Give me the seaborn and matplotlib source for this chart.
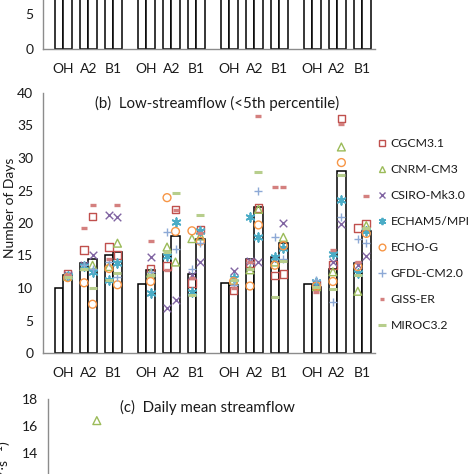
import numpy as np
import pandas as pd
import seaborn as sns
import matplotlib.pyplot as plt
from matplotlib.lines import Line2D

# --- data -------------------------------------------------------------
CATEGORIES = ["OH", "A2", "B1"]
N_GROUPS = 4

# panel (a): only the bottom of the bars is inside the crop (all > 7)
TOP_LEFT = [20, 22, 23, 20, 22, 21, 20, 22, 21, 20, 23, 22]
TOP_RIGHT = [21, 23, 24, 21, 24, 22, 21, 25, 23, 21, 26, 24]

# panel (b): low-streamflow days, left / right bar of each OH-A2-B1 pair
LOW_LEFT = [10.0, 13.8, 15.1, 10.6, 15.2, 12.2, 10.7, 14.4, 14.8, 10.6, 13.0, 13.8]
LOW_RIGHT = [12.0, 14.5, 15.5, 12.7, 18.0, 17.5, 10.5, 22.5, 17.0, 10.2, 28.0, 18.7]

MODELS = ["CGCM3.1", "CNRM-CM3", "CSIRO-Mk3.0", "ECHAM5/MPI",
          "ECHO-G", "GFDL-CM2.0", "GISS-ER", "MIROC3.2"]

# GCM values per group: OH right bar, A2 left, A2 right, B1 left, B1 right
CGCM = [12.2, 15.8, 21.0, 16.3, 15.1, 13.0, 13.4, 22.1, 10.8, 19.0,
        9.6, 13.8, 22.3, 11.9, 12.2, 10.5, 13.5, 36.1, 19.2, 19.9]
CNRM = [11.8, 13.3, 13.5, 13.3, 16.9, 12.3, 16.3, 14.0, 17.6, 18.0,
        11.2, 12.8, 22.1, 14.0, 17.8, 10.2, 12.5, 31.7, 9.5, 19.6]
CSIRO = [12.0, 13.6, 15.1, 21.3, 21.0, 14.7, 6.9, 8.2, 12.0, 14.0,
         12.6, 14.2, 14.0, 14.5, 20.0, 10.8, 14.0, 19.8, 13.5, 15.0]
ECHAM = [11.9, 13.4, 12.5, 11.2, 13.9, 9.2, 14.9, 20.2, 9.4, 18.7,
         11.5, 21.0, 17.8, 14.8, 16.1, 10.9, 15.2, 23.6, 12.3, 18.7]
ECHO = [11.6, 10.8, 7.5, 13.0, 10.5, 11.0, 23.9, 18.7, 18.8, 17.2,
        11.0, 10.3, 19.7, 13.5, 16.5, 10.3, 11.0, 29.3, 13.3, 18.4]
GFDL = [11.8, 13.6, 13.0, 14.0, 11.7, 12.5, 18.6, 16.0, 13.0, 17.0,
        10.5, 14.0, 25.0, 17.8, 14.5, 11.2, 7.9, 21.0, 17.6, 17.0]
GISS = [12.0, 19.3, 22.7, 14.5, 22.8, 17.3, 12.8, 22.0, 11.5, 18.5,
        10.0, 14.0, 36.4, 25.6, 25.6, 9.4, 15.8, 35.3, 14.0, 24.2]
MIROC = [11.7, 13.0, 10.0, 11.3, 12.3, 12.0, 15.5, 24.6, 9.0, 21.3,
         11.3, 13.0, 27.9, 8.6, 14.1, 10.1, 9.8, 27.4, 12.0, 19.2]
MODEL_VALUES = [CGCM, CNRM, CSIRO, ECHAM, ECHO, GFDL, GISS, MIROC]
SLOTS = [("OH", "right"), ("A2", "left"), ("A2", "right"), ("B1", "left"), ("B1", "right")]

# panel (c): the only mark inside the crop
MEAN_POINT = {"model": "CNRM-CM3", "group": 0, "cat": "A2", "side": "right", "value": 16.4}

# --- styles -----------------------------------------------------------
COLORS = {"CGCM3.1": "#C0504D", "CNRM-CM3": "#9BBB59", "CSIRO-Mk3.0": "#8064A2",
          "ECHAM5/MPI": "#4BACC6", "ECHO-G": "#F79646", "GFDL-CM2.0": "#8DA9D6",
          "GISS-ER": "#D4807F", "MIROC3.2": "#B7CE8C"}
# marker, size (pt^2), line width, outline-only filled marker?
MARKERS = {"CGCM3.1": ("s", 30, 1.0, True), "CNRM-CM3": ("^", 32, 1.0, True),
           "CSIRO-Mk3.0": ("x", 30, 1.0, False), "ECHAM5/MPI": ((6, 2, 0), 38, 1.3, False),
           "ECHO-G": ("o", 32, 1.0, True), "GFDL-CM2.0": ("+", 40, 1.0, False),
           "GISS-ER": ("_", 14, 2.4, False), "MIROC3.2": ("_", 36, 2.2, False)}

GROUP_STEP = 3.33
HALF = 0.17
XLIM = (-0.82, 12.51)
AXIS_GREY = "#8C8C8C"
TEXT = "#1a1a1a"


def pair_pos(g, cat):
    return g * GROUP_STEP + CATEGORIES.index(cat)


def bar_frame(left, right):
    rows = []
    for g in range(N_GROUPS):
        for k, cat in enumerate(CATEGORIES):
            i = g * 3 + k
            rows.append({"pos": pair_pos(g, cat), "side": "left", "days": left[i]})
            rows.append({"pos": pair_pos(g, cat), "side": "right", "days": right[i]})
    return pd.DataFrame(rows)


def marker_frame():
    rows = []
    for model, vals in zip(MODELS, MODEL_VALUES):
        for g in range(N_GROUPS):
            for j, (cat, side) in enumerate(SLOTS):
                off = -HALF if side == "left" else HALF
                rows.append({"model": model, "x": pair_pos(g, cat) + off,
                             "days": vals[g * len(SLOTS) + j]})
    return pd.DataFrame(rows)


def draw_markers(ax, df):
    for model in MODELS:
        sub = df[df["model"] == model]
        if sub.empty:
            continue
        m, s, lw, outline = MARKERS[model]
        c = COLORS[model]
        if outline:
            sns.scatterplot(data=sub, x="x", y="days", marker=m, s=s, facecolor="none",
                            edgecolor=c, linewidth=lw, ax=ax, legend=False, zorder=3)
        else:
            sns.scatterplot(data=sub, x="x", y="days", marker=m, s=s, color=c,
                            linewidth=lw, ax=ax, legend=False, zorder=3)


def draw_bars(ax, df):
    sns.barplot(data=df, x="pos", y="days", hue="side", hue_order=["left", "right"],
                palette={"left": "white", "right": "white"}, native_scale=True,
                width=0.68, edgecolor="black", linewidth=1.1, errorbar=None,
                legend=False, ax=ax, zorder=2)


def style_axis(ax, ylim, yticks, show_x=True):
    ax.set_xlim(*XLIM)
    ax.set_ylim(*ylim)
    ax.set_yticks(yticks)
    ticks = [pair_pos(g, c) for g in range(N_GROUPS) for c in CATEGORIES]
    ax.set_xticks(ticks, CATEGORIES * N_GROUPS if show_x else [])
    for side in ["top", "right"]:
        ax.spines[side].set_visible(False)
    for side in ["left", "bottom"]:
        ax.spines[side].set_color(AXIS_GREY)
        ax.spines[side].set_linewidth(1.0)
    ax.tick_params(axis="y", length=4, width=1, color=AXIS_GREY, pad=3,
                   labelsize=10, labelcolor=TEXT)
    ax.tick_params(axis="x", length=0, pad=10, labelsize=10, labelcolor=TEXT)
    ax.set_xlabel("")
    ax.set_ylabel("")


sns.set_style("white")
plt.rcParams["font.family"] = ["Lato", "DejaVu Sans"]
plt.rcParams["mathtext.fontset"] = "dejavusans"

W = 474.0
fig = plt.figure(figsize=(4.74, 4.74), dpi=100)

# (a) only its lower part is visible
ax_a = fig.add_axes([43 / W, 1 - 49 / W, 332 / W, 280 / W])
draw_bars(ax_a, bar_frame(TOP_LEFT, TOP_RIGHT))
style_axis(ax_a, (0, 40), [0, 5])

# (b) low-streamflow
ax_b = fig.add_axes([43 / W, 1 - 353 / W, 332 / W, 260 / W])
draw_bars(ax_b, bar_frame(LOW_LEFT, LOW_RIGHT))
draw_markers(ax_b, marker_frame())
style_axis(ax_b, (0, 40), np.arange(0, 41, 5))
ax_b.set_ylabel("Number of Days", fontsize=10, color=TEXT)
ax_b.yaxis.set_label_coords(-0.08, 0.56)
ax_b.text(0.524, 0.958, "(b)  Low-streamflow (<5th percentile)", transform=ax_b.transAxes,
          ha="center", va="center", fontsize=10.8, color=TEXT)

# (c) daily mean, only its top is visible
ax_c = fig.add_axes([48 / W, 1 - 642 / W, 327 / W, 243 / W])
pt = MEAN_POINT
mean_df = pd.DataFrame({"model": [pt["model"]],
                        "x": [pair_pos(pt["group"], pt["cat"]) + (HALF if pt["side"] == "right" else -HALF)],
                        "days": [pt["value"]]})
draw_markers(ax_c, mean_df)
style_axis(ax_c, (0, 18), [14, 16, 18], show_x=False)
ax_c.set_ylabel(r"Streamflow (m$^{3}$$\cdot$s$^{-1}$)", fontsize=10, color=TEXT)
ax_c.yaxis.set_label_coords(-0.105, 0.57)
ax_c.text(0.488, 17.35, "(c)  Daily mean streamflow", transform=ax_c.get_yaxis_transform(),
          ha="center", va="center", fontsize=10.8, color=TEXT)

# legend to the right of panel (b)
handles = []
for model in MODELS:
    m, s, lw, outline = MARKERS[model]
    c = COLORS[model]
    handles.append(Line2D([], [], linestyle="none", marker=m, markersize=np.sqrt(s) * 0.85,
                          markerfacecolor="none", markeredgecolor=c, color=c,
                          markeredgewidth=lw))
fig.legend(handles, MODELS, loc="upper left", bbox_to_anchor=(377 / W, 1 - 138 / W),
           frameon=False, fontsize=8.8, handlelength=0.8, handletextpad=0.3,
           labelspacing=1.23, borderpad=0, borderaxespad=0, labelcolor=TEXT)

fig.savefig("out.png", dpi=100)
